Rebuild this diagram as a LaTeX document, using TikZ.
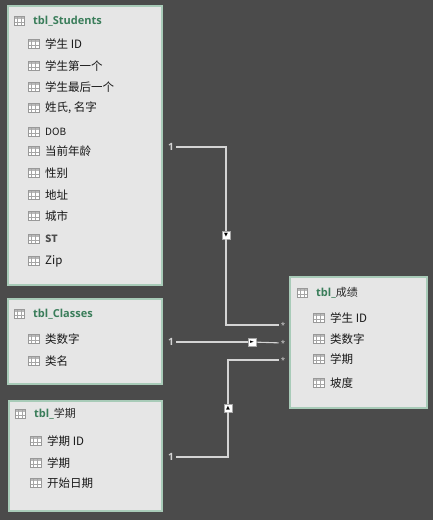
\documentclass[tikz,border=0pt]{standalone}
\usepackage{fontspec}
\setmainfont{Open Sans}
\newfontfamily\cjk{Noto Sans CJK SC}
\newfontfamily\symb{DejaVu Sans}
\definecolor{canvas}{HTML}{4B4B4B}
\definecolor{boxfill}{HTML}{E6E6E6}
\definecolor{boxline}{HTML}{A8CBB8}
\definecolor{titlegreen}{HTML}{3A7D5A}
\definecolor{relline}{HTML}{D4D4D4}

\begin{document}
\begin{tikzpicture}[x=1pt,y=-1pt]
            \tikzset{tblicon/.style = {draw=gray!80, fill=white, minimum width=11pt, minimum height=9pt, inner sep=0pt,
                path picture={\fill[gray!55] (path picture bounding box.north west) rectangle ([yshift=-2.5pt]path picture bounding box.north east);
                  \draw[gray!70, line width=0.4pt] ([xshift=3.7pt]path picture bounding box.north west) -- ([xshift=3.7pt]path picture bounding box.south west)
                  ([xshift=7.3pt]path picture bounding box.north west) -- ([xshift=7.3pt]path picture bounding box.south west)
                  ([yshift=-5.5pt]path picture bounding box.north west) -- ([yshift=-5.5pt]path picture bounding box.north east);}}}
            \tikzset{tablebox/.style = {draw=boxline, line width=1.6pt, fill=boxfill}}
            \tikzset{tbltitle/.style = {anchor=west, inner sep=0pt, font=\bfseries\fontsize{11}{13}\selectfont, text=titlegreen,
                label={[tblicon, minimum width=10pt, xshift=-9pt]left:{}}}}
            \tikzset{field/.style = {anchor=west, inner sep=0pt, font=\cjk\fontsize{11.5}{13}\selectfont, text=black!90,
                label={[tblicon, xshift=-6pt]left:{}}}}
            \tikzset{card/.style = {text=relline, font=\bfseries\fontsize{10}{11}\selectfont, inner sep=2pt}}
            \tikzset{relmark/.style = {draw=gray!70, fill=white, minimum size=8pt, inner sep=0pt, font=\symb\fontsize{5}{5}\selectfont}}
            \tikzset{rel/.style = {draw=relline, line width=1.1pt}}
            % canvas
            \fill[canvas] (0,0) rectangle (433,520);
            \useasboundingbox (0,0) rectangle (433,520);
            % tables
            \draw[tablebox] (8,6) rectangle (162,285);
            \draw[tablebox] (8,299) rectangle (162,384);
            \draw[tablebox] (9,401) rectangle (162,511);
            \draw[tablebox] (290,277) rectangle (427,408);
            % tbl_Students
            \node[tbltitle] (stu) at (33,21) {tbl\_Students};
            \node[field] (stu1) at (45,44) {学生 ID};
            \node[field] (stu2) at (45,66) {学生第一个};
            \node[field] (stu3) at (45,87) {学生最后一个};
            \node[field] (stu4) at (45,108) {姓氏, 名字};
            \node[field] (stu5) at (45,132) {\fontsize{10}{11}\selectfont DOB};
            \node[field] (stu6) at (45,151) {当前年龄};
            \node[field] (stu7) at (45,173) {性别};
            \node[field] (stu8) at (45,195) {地址};
            \node[field] (stu9) at (45,216) {城市};
            \node[field] (stu10) at (45,239) {\bfseries\color{black!70}\fontsize{10}{11}\selectfont ST};
            \node[field] (stu11) at (45,261) {Zip};
            % tbl_Classes
            \node[tbltitle] (cls) at (33,314) {tbl\_Classes};
            \node[field] (cls1) at (45,339) {类数字};
            \node[field] (cls2) at (45,361) {类名};
            % tbl_学期
            \node[tbltitle] (trm) at (34,414) {tbl\_{\cjk\mdseries\color{black!85}学期}};
            \node[field] (trm1) at (47,441) {学期 ID};
            \node[field] (trm2) at (47,463) {学期};
            \node[field] (trm3) at (47,483) {开始日期};
            % tbl_成绩
            \node[tbltitle] (grd) at (316,293) {tbl\_{\cjk\mdseries\color{black!85}成绩}};
            \node[field] (grd1) at (330,318) {学生 ID};
            \node[field] (grd2) at (330,339) {类数字};
            \node[field] (grd3) at (330,359) {学期};
            \node[field] (grd4) at (330,383) {坡度};
            % cardinalities
            \node[card] (oneS) at (171,147) {1};
            \node[card] (oneC) at (171,342) {1};
            \node[card] (oneT) at (171,457) {1};
            \node[card, font=\fontsize{8}{9}\selectfont] (manyS) at (283,325) {*};
            \node[card, font=\fontsize{8}{9}\selectfont] (manyC) at (283,343) {*};
            \node[card, font=\fontsize{8}{9}\selectfont] (manyT) at (283,360) {*};
            % filter direction marks
            \node[relmark] (markS) at (226,235) {▼};
            \node[relmark] (markC) at (252,342) {►};
            \node[relmark] (markT) at (228,408) {▲};
            % relationships
            \draw[rel] (oneS) -| (markS);
            \draw[rel] (markS) |- (manyS);
            \draw[rel] (oneC) -- (markC);
            \draw[rel] (markC) -- (manyC);
            \draw[rel] (manyT) -| (markT);
            \draw[rel] (markT) |- (oneT);
        \end{tikzpicture}
\end{document}
